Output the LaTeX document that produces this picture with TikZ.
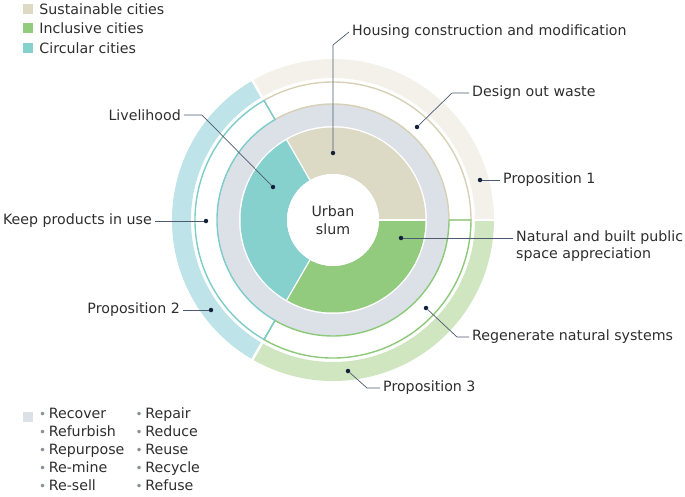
\documentclass[tikz,border=0pt]{standalone}
\usepackage{fontspec}
\setmainfont{DejaVu Sans}
\usetikzlibrary{positioning}

\definecolor{sus}{HTML}{DCD9C4}
\definecolor{inc}{HTML}{93CB7E}
\definecolor{cir}{HTML}{86D1CE}
\definecolor{susl}{HTML}{F3F1EA}
\definecolor{incl}{HTML}{CFE6C0}
\definecolor{cirl}{HTML}{BEE3E9}
\definecolor{susline}{HTML}{D6D1B6}
\definecolor{incline}{HTML}{8CC978}
\definecolor{cirline}{HTML}{7DCCC8}
\definecolor{rring}{HTML}{DCE0E7}
\definecolor{dotc}{HTML}{14213D}
\definecolor{leadc}{HTML}{4D5B70}
\definecolor{txt}{HTML}{2E2E2E}
\definecolor{bul}{HTML}{8A8F96}

% annular sector: colour, start, end, outer r, inner r
\newcommand{\annsec}[5]{%
  \fill[#1] (#2:#4) arc[start angle=#2, end angle=#3, radius=#4]
    -- (#3:#5) arc[start angle=#3, end angle=#2, radius=#5] -- cycle;}
\newcommand{\itm}[1]{\textcolor{bul}{\fontsize{12}{12}\selectfont•}\hspace{2.5pt}#1}

\tikzset{
  lbl/.style={font=\fontsize{14.2}{17}\selectfont, text=txt, inner sep=3pt},
  item/.style={lbl, text height=9.5pt, text depth=3pt, inner ysep=2.5pt},
  sq/.style={draw=none, minimum size=10pt, inner sep=0pt},
  dot/.style={circle, fill=dotc, inner sep=0pt, minimum size=4.5pt},
  lead/.style={draw=leadc, line width=0.7pt},
  outl/.style={line width=1.4pt, line join=miter},
}

\begin{document}
\begin{tikzpicture}[x=1pt, y=1pt]
    \useasboundingbox (-333,-276) rectangle (352,220);

    % Outer band (propositions)
    \annsec{susl}{0}{120}{161}{142}
    \annsec{cirl}{120}{240}{161}{142}
    \annsec{incl}{240}{360}{161}{142}
    \draw[white, line width=2.5pt] (0:136) -- (0:165);
    \draw[white, line width=2.5pt] (120:136) -- (120:165);
    \draw[white, line width=2.5pt] (240:136) -- (240:165);

    % Resource ring
    \fill[rring, even odd rule] (0,0) circle[radius=116] circle[radius=94];

    % Outlines (principles)
    \draw[susline, outl] (0:116) -- (0:138) arc[start angle=0, end angle=120, radius=138]
        -- (120:116) arc[start angle=120, end angle=0, radius=116] -- cycle;
    \draw[incline, outl] (240:116) -- (240:138) arc[start angle=240, end angle=360, radius=138]
        -- (360:116) arc[start angle=360, end angle=240, radius=116] -- cycle;
    \draw[cirline, outl] (120:116) -- (120:138) arc[start angle=120, end angle=240, radius=138]
        -- (240:116) arc[start angle=240, end angle=120, radius=116] -- cycle;

    % Pie
    \annsec{sus}{0}{120}{92.5}{46}
    \annsec{cir}{120}{240}{92.5}{46}
    \annsec{inc}{240}{360}{92.5}{46}
    \draw[white, line width=1.2pt] (0:45) -- (0:93);
    \draw[white, line width=1.2pt] (120:45) -- (120:93);
    \draw[white, line width=1.2pt] (240:45) -- (240:93);

    \node[circle, fill=white, minimum size=92pt, inner sep=0pt, align=center,
          font=\fontsize{14.2}{18}\selectfont, text=txt] (slum) at (0,0) {Urban\\slum};

    % Dots
    \node[dot] (hdot) at (0,67) {};
    \node[dot] (ldot) at (-60,33) {};
    \node[dot] (ddot) at (84,93) {};
    \node[dot] (p1dot) at (147,40) {};
    \node[dot] (kdot) at (-127,-1) {};
    \node[dot] (ndot) at (68,-18) {};
    \node[dot] (p2dot) at (-122,-90) {};
    \node[dot] (rdot) at (93,-88) {};
    \node[dot] (p3dot) at (15,-151) {};

    % Labels
    \node[lbl, anchor=west] (hous) at (16,188) {Housing construction and modification};
    \node[lbl, anchor=east] (live) at (-149,105) {Livelihood};
    \node[lbl, anchor=west] (dow) at (136,127) {Design out waste};
    \node[lbl, anchor=west] (p1) at (167,40) {Proposition 1};
    \node[lbl, anchor=east] (keep) at (-178,-1) {Keep products in use};
    \node[lbl, anchor=west, align=left] (nat) at (180,-26.5) {Natural and built public\\space appreciation};
    \node[lbl, anchor=east] (p2) at (-150,-90) {Proposition 2};
    \node[lbl, anchor=west] (regen) at (136,-117) {Regenerate natural systems};
    \node[lbl, anchor=west] (p3) at (47,-168) {Proposition 3};

    % Leaders
    \draw[lead] (hdot) -- (0,175) -- (hous.west);
    \draw[lead] (ldot) -- (-131,105) -- (live.east);
    \draw[lead] (ddot) -- (119,127) -- (dow.west);
    \draw[lead] (p1dot) -- (p1.west);
    \draw[lead] (kdot) -- (keep.east);
    \draw[lead] (ndot) -- (ndot -| nat.west);
    \draw[lead] (p2dot) -- (p2.east);
    \draw[lead] (rdot) -- (124,-117) -- (regen.west);
    \draw[lead] (p3dot) -- (34,-168) -- (p3.west);

    % Legend
    \node[sq, fill=sus] (sqsus) at (-305,211) {};
    \node[sq, fill=inc] (sqinc) at (-305,192) {};
    \node[sq, fill=cir] (sqcir) at (-305,172) {};
    \node[lbl, right=3pt of sqsus, inner sep=3pt] (legsus) {Sustainable cities};
    \node[lbl, right=3pt of sqinc, inner sep=3pt] (leginc) {Inclusive cities};
    \node[lbl, right=3pt of sqcir, inner sep=3pt] (legcir) {Circular cities};

    \node[sq, fill=rring] (sqres) at (-305,-196.5) {};
    \node[item, anchor=west] (recov) at (-297,-195.5) {\itm{Recover}};
    \node[item, below=0pt of recov.south west, anchor=north west] (refurb) {\itm{Refurbish}};
    \node[item, below=0pt of refurb.south west, anchor=north west] (repurp) {\itm{Repurpose}};
    \node[item, below=0pt of repurp.south west, anchor=north west] (remine) {\itm{Re-mine}};
    \node[item, below=0pt of remine.south west, anchor=north west] (resell) {\itm{Re-sell}};
    \node[item, anchor=west] (repair) at (-200.5,-195.5) {\itm{Repair}};
    \node[item, below=0pt of repair.south west, anchor=north west] (reduce) {\itm{Reduce}};
    \node[item, below=0pt of reduce.south west, anchor=north west] (reuse) {\itm{Reuse}};
    \node[item, below=0pt of reuse.south west, anchor=north west] (recyc) {\itm{Recycle}};
    \node[item, below=0pt of recyc.south west, anchor=north west] (refuse) {\itm{Refuse}};
\end{tikzpicture}
\end{document}
